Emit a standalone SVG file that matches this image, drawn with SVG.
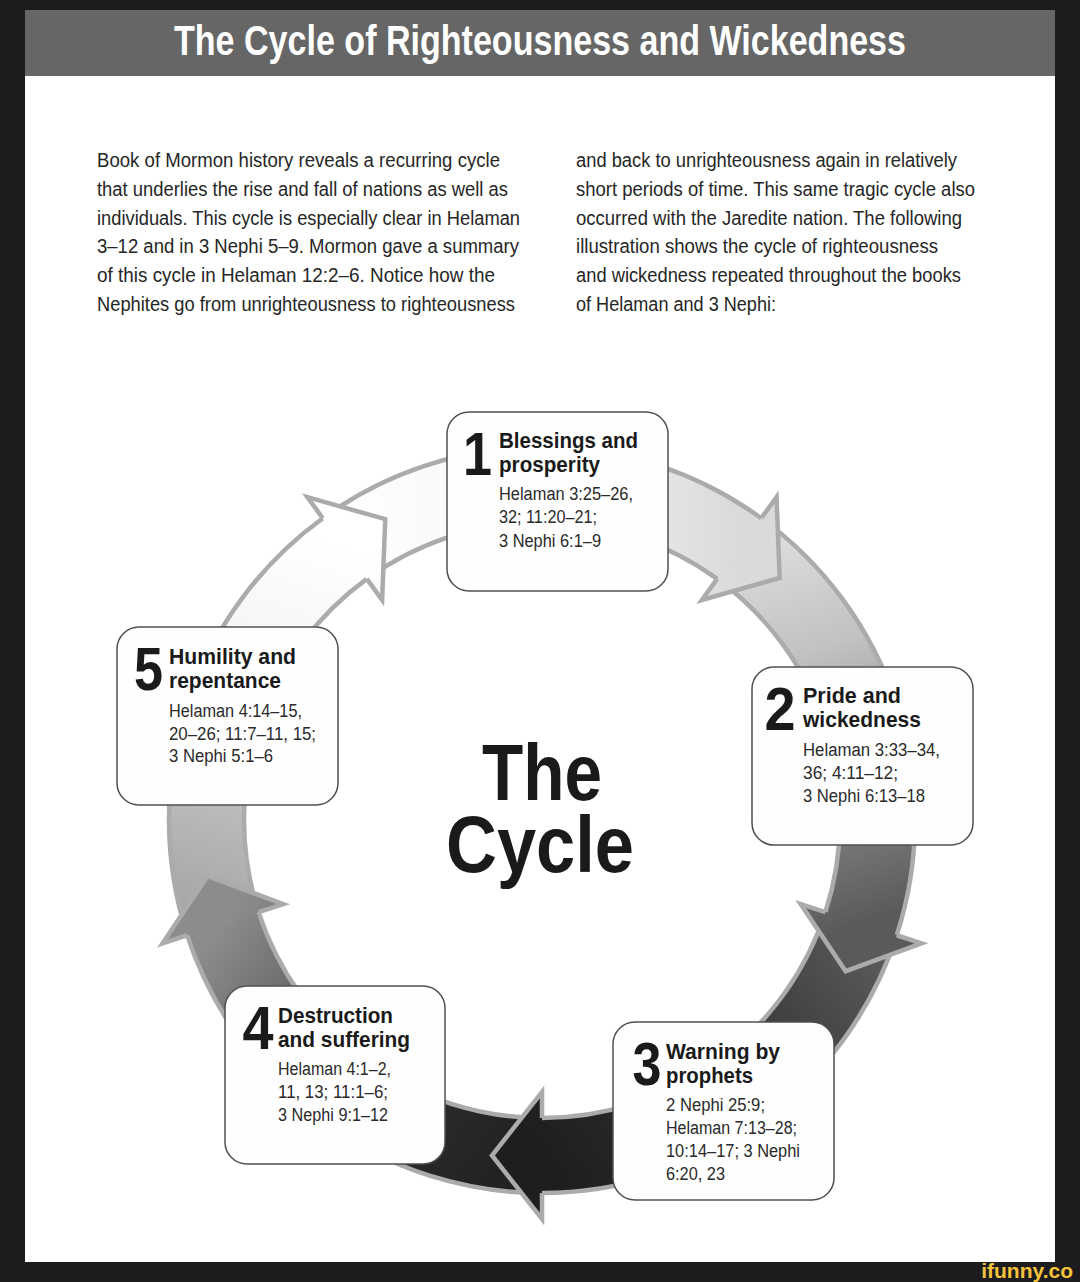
<svg xmlns="http://www.w3.org/2000/svg" width="1080" height="1282" viewBox="0 0 1080 1282">
<style>
.para{font-family:"Liberation Sans",Arial,sans-serif;font-size:19.5px;fill:#262626}
.num{font-family:"Liberation Sans",Arial,sans-serif;font-weight:bold;font-size:62px;fill:#1a1a1a;text-anchor:middle}
.ttl{font-family:"Liberation Sans",Arial,sans-serif;font-weight:bold;font-size:22.5px;fill:#1a1a1a}
.ref{font-family:"Liberation Sans",Arial,sans-serif;font-size:18px;fill:#2a2a2a}
.box{fill:#fefefe;stroke:#505050;stroke-width:1.5}
.edge{fill:none;stroke:#ababab;stroke-width:4.5;stroke-linejoin:miter}
.big{font-family:"Liberation Sans",Arial,sans-serif;font-weight:bold;font-size:80px;fill:#1a1a1a;text-anchor:middle}
</style>
<defs>
<linearGradient id="g1" gradientUnits="userSpaceOnUse" x1="344.8" y1="548.6" x2="739.2" y2="548.6"><stop offset="0" stop-color="#ffffff"/><stop offset="0.55" stop-color="#f3f3f3"/><stop offset="1" stop-color="#dadada"/></linearGradient>
<linearGradient id="g2" gradientUnits="userSpaceOnUse" x1="739.2" y1="548.6" x2="861.1" y2="923.7"><stop offset="0" stop-color="#dddddd"/><stop offset="0.3" stop-color="#c2c2c2"/><stop offset="0.75" stop-color="#7c7c7c"/><stop offset="1" stop-color="#5a5a5a"/></linearGradient>
<linearGradient id="g3" gradientUnits="userSpaceOnUse" x1="861.1" y1="923.7" x2="542" y2="1155.5"><stop offset="0" stop-color="#5a5a5a"/><stop offset="0.45" stop-color="#353535"/><stop offset="1" stop-color="#1e1e1e"/></linearGradient>
<linearGradient id="g4" gradientUnits="userSpaceOnUse" x1="542" y1="1155.5" x2="222.9" y2="923.7"><stop offset="0" stop-color="#202020"/><stop offset="0.35" stop-color="#2c2c2c"/><stop offset="0.75" stop-color="#6a6a6a"/><stop offset="1" stop-color="#8c8c8c"/></linearGradient>
<linearGradient id="g5" gradientUnits="userSpaceOnUse" x1="222.9" y1="923.7" x2="344.8" y2="548.6"><stop offset="0" stop-color="#a6a6a6"/><stop offset="0.3" stop-color="#bcbcbc"/><stop offset="0.6" stop-color="#f2f2f2"/><stop offset="1" stop-color="#ffffff"/></linearGradient>
</defs>

<rect x="0" y="0" width="1080" height="1282" fill="#1c1c1e"/>
<rect x="25" y="10" width="1030" height="1252" fill="#ffffff"/>
<rect x="25" y="10" width="1030" height="66" fill="#666666"/>
<text x="540" y="55" text-anchor="middle" textLength="732" lengthAdjust="spacingAndGlyphs" style="font-family:'Liberation Sans',Arial,sans-serif;font-weight:bold;font-size:42px;fill:#ffffff">The Cycle of Righteousness and Wickedness</text>

<g id="intro">
<text class="para" x="97" y="167" textLength="403" lengthAdjust="spacingAndGlyphs">Book of Mormon history reveals a recurring cycle</text>
<text class="para" x="97" y="196" textLength="411" lengthAdjust="spacingAndGlyphs">that underlies the rise and fall of nations as well as</text>
<text class="para" x="97" y="225" textLength="423" lengthAdjust="spacingAndGlyphs">individuals. This cycle is especially clear in Helaman</text>
<text class="para" x="97" y="253" textLength="422" lengthAdjust="spacingAndGlyphs">3–12 and in 3 Nephi 5–9. Mormon gave a summary</text>
<text class="para" x="97" y="282" textLength="398" lengthAdjust="spacingAndGlyphs">of this cycle in Helaman 12:2–6. Notice how the</text>
<text class="para" x="97" y="311" textLength="418" lengthAdjust="spacingAndGlyphs">Nephites go from unrighteousness to righteousness</text>
<text class="para" x="576" y="167" textLength="381" lengthAdjust="spacingAndGlyphs">and back to unrighteousness again in relatively</text>
<text class="para" x="576" y="196" textLength="399" lengthAdjust="spacingAndGlyphs">short periods of time. This same tragic cycle also</text>
<text class="para" x="576" y="225" textLength="386" lengthAdjust="spacingAndGlyphs">occurred with the Jaredite nation. The following</text>
<text class="para" x="576" y="253" textLength="362" lengthAdjust="spacingAndGlyphs">illustration shows the cycle of righteousness</text>
<text class="para" x="576" y="282" textLength="385" lengthAdjust="spacingAndGlyphs">and wickedness repeated throughout the books</text>
<text class="para" x="576" y="311" textLength="200" lengthAdjust="spacingAndGlyphs">of Helaman and 3 Nephi:</text>
</g>

<g id="connectors">
<path fill="url(#g1)" d="M 322.76 518.24 A 373 373 0 0 1 766.48 522.11 L 721.34 582.01 A 298 298 0 0 0 366.84 578.91 Z"/>
<path class="edge" d="M 322.76 518.24 A 373 373 0 0 1 761.24 518.24 M 366.84 578.91 A 298 298 0 0 1 717.16 578.91"/>
<path fill="url(#g2)" d="M 761.24 518.24 A 373 373 0 0 1 894.68 941.44 L 823.76 917.02 A 298 298 0 0 0 717.16 578.91 Z"/>
<path class="edge" d="M 761.24 518.24 A 373 373 0 0 1 896.74 935.26 M 717.16 578.91 A 298 298 0 0 1 825.42 912.09"/>
<path fill="url(#g3)" d="M 896.74 935.26 A 373 373 0 0 1 535.49 1192.94 L 536.80 1117.95 A 298 298 0 0 0 825.42 912.09 Z"/>
<path class="edge" d="M 896.74 935.26 A 373 373 0 0 1 542 1193 M 825.42 912.09 A 298 298 0 0 1 542 1118"/>
<path fill="url(#g4)" d="M 542 1193 A 373 373 0 0 1 185.30 929.05 L 257.02 907.13 A 298 298 0 0 0 542 1118 Z"/>
<path class="edge" d="M 542 1193 A 373 373 0 0 1 187.26 935.26 M 542 1118 A 298 298 0 0 1 258.58 912.09"/>
<path fill="url(#g5)" d="M 187.26 935.26 A 373 373 0 0 1 328.06 514.46 L 371.08 575.89 A 298 298 0 0 0 258.58 912.09 Z"/>
<path class="edge" d="M 187.26 935.26 A 373 373 0 0 1 322.76 518.24 M 258.58 912.09 A 298 298 0 0 1 366.84 578.91"/>

<path fill="url(#g1)" d="M 776.53 497.20 L 779.65 577.96 L 701.88 599.95 Z"/>
<path class="edge" d="M 761.24 518.24 L 776.53 497.20 L 779.65 577.96 L 701.88 599.95 L 717.16 578.91"/>
<path fill="url(#g2)" d="M 921.47 943.30 L 845.63 971.23 L 800.69 904.05 Z"/>
<path class="edge" d="M 896.74 935.26 L 921.47 943.30 L 845.63 971.23 L 800.69 904.05 L 825.42 912.09"/>
<path fill="url(#g3)" d="M 542 1219 L 492 1155.5 L 542 1092 Z"/>
<path class="edge" d="M 542 1193 L 542 1219 L 492 1155.5 L 542 1092 L 542 1118"/>
<path fill="url(#g4)" d="M 162.53 943.30 L 207.47 876.13 L 283.31 904.05 Z"/>
<path class="edge" d="M 187.26 935.26 L 162.53 943.30 L 207.47 876.13 L 283.31 904.05 L 258.58 912.09"/>
<path fill="url(#g5)" d="M 307.47 497.20 L 385.25 519.18 L 382.12 599.95 Z"/>
<path class="edge" d="M 322.76 518.24 L 307.47 497.20 L 385.25 519.18 L 382.12 599.95 L 366.84 578.91"/>
</g>

<g id="center-label">
<text class="big"><tspan x="542" y="800" textLength="120" lengthAdjust="spacingAndGlyphs">The</tspan><tspan x="540" y="872" textLength="188" lengthAdjust="spacingAndGlyphs">Cycle</tspan></text>
</g>

<g id="node1">
<rect class="box" x="447" y="412" width="221" height="179" rx="22"/>
<text class="num" x="477.5" y="475" textLength="29" lengthAdjust="spacingAndGlyphs">1</text>
<text class="ttl" x="499" y="448" textLength="139" lengthAdjust="spacingAndGlyphs">Blessings and</text>
<text class="ttl" x="499" y="472" textLength="101" lengthAdjust="spacingAndGlyphs">prosperity</text>
<text class="ref" x="499" y="500" textLength="134" lengthAdjust="spacingAndGlyphs">Helaman 3:25–26,</text>
<text class="ref" x="499" y="523" textLength="98" lengthAdjust="spacingAndGlyphs">32; 11:20–21;</text>
<text class="ref" x="499" y="547" textLength="102" lengthAdjust="spacingAndGlyphs">3 Nephi 6:1–9</text>
</g>

<g id="node2">
<rect class="box" x="752" y="667" width="221" height="178" rx="22"/>
<text class="num" x="780" y="730" textLength="31" lengthAdjust="spacingAndGlyphs">2</text>
<text class="ttl" x="803" y="703" textLength="98" lengthAdjust="spacingAndGlyphs">Pride and</text>
<text class="ttl" x="803" y="727" textLength="118" lengthAdjust="spacingAndGlyphs">wickedness</text>
<text class="ref" x="803" y="756" textLength="137" lengthAdjust="spacingAndGlyphs">Helaman 3:33–34,</text>
<text class="ref" x="803" y="779" textLength="95" lengthAdjust="spacingAndGlyphs">36; 4:11–12;</text>
<text class="ref" x="803" y="802" textLength="122" lengthAdjust="spacingAndGlyphs">3 Nephi 6:13–18</text>
</g>

<g id="node3">
<rect class="box" x="613" y="1022" width="221" height="178" rx="22"/>
<text class="num" x="647" y="1085" textLength="29" lengthAdjust="spacingAndGlyphs">3</text>
<text class="ttl" x="666" y="1059" textLength="114" lengthAdjust="spacingAndGlyphs">Warning by</text>
<text class="ttl" x="666" y="1083" textLength="87" lengthAdjust="spacingAndGlyphs">prophets</text>
<text class="ref" x="666" y="1111" textLength="99" lengthAdjust="spacingAndGlyphs">2 Nephi 25:9;</text>
<text class="ref" x="666" y="1134" textLength="131" lengthAdjust="spacingAndGlyphs">Helaman 7:13–28;</text>
<text class="ref" x="666" y="1157" textLength="134" lengthAdjust="spacingAndGlyphs">10:14–17; 3 Nephi</text>
<text class="ref" x="666" y="1180" textLength="59" lengthAdjust="spacingAndGlyphs">6:20, 23</text>
</g>

<g id="node4">
<rect class="box" x="225" y="986" width="220" height="178" rx="22"/>
<text class="num" x="258" y="1049" textLength="31" lengthAdjust="spacingAndGlyphs">4</text>
<text class="ttl" x="278" y="1023" textLength="115" lengthAdjust="spacingAndGlyphs">Destruction</text>
<text class="ttl" x="278" y="1047" textLength="132" lengthAdjust="spacingAndGlyphs">and suffering</text>
<text class="ref" x="278" y="1075" textLength="113" lengthAdjust="spacingAndGlyphs">Helaman 4:1–2,</text>
<text class="ref" x="278" y="1098" textLength="110" lengthAdjust="spacingAndGlyphs">11, 13; 11:1–6;</text>
<text class="ref" x="278" y="1121" textLength="110" lengthAdjust="spacingAndGlyphs">3 Nephi 9:1–12</text>
</g>

<g id="node5">
<rect class="box" x="117" y="627" width="221" height="178" rx="22"/>
<text class="num" x="148.5" y="690" textLength="29" lengthAdjust="spacingAndGlyphs">5</text>
<text class="ttl" x="169" y="664" textLength="127" lengthAdjust="spacingAndGlyphs">Humility and</text>
<text class="ttl" x="169" y="688" textLength="112" lengthAdjust="spacingAndGlyphs">repentance</text>
<text class="ref" x="169" y="717" textLength="133" lengthAdjust="spacingAndGlyphs">Helaman 4:14–15,</text>
<text class="ref" x="169" y="740" textLength="147" lengthAdjust="spacingAndGlyphs">20–26; 11:7–11, 15;</text>
<text class="ref" x="169" y="762" textLength="104" lengthAdjust="spacingAndGlyphs">3 Nephi 5:1–6</text>
</g>

<text x="1073" y="1278" text-anchor="end" style="font-family:'Liberation Sans',Arial,sans-serif;font-weight:bold;font-size:21px;fill:#f6c23c">ifunny.co</text>
</svg>
